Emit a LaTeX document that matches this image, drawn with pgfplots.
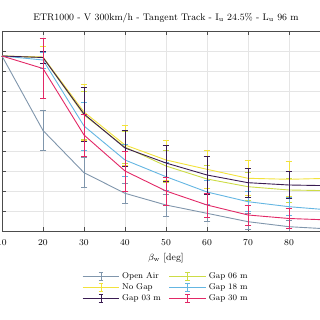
\documentclass[border=0pt]{standalone}
\usepackage{pgfplots}
\usepackage{pgfplotstable}
\pgfplotsset{compat=1.18}
\definecolor{cOpen}{RGB}{128,150,172}
\definecolor{cNoGap}{RGB}{242,226,60}
\definecolor{cG03}{RGB}{58,28,82}
\definecolor{cG06}{RGB}{205,220,70}
\definecolor{cG18}{RGB}{100,182,226}
\definecolor{cG30}{RGB}{226,40,102}

\pgfplotstableread{
x y e
10 0.875 0
20 0.5025 0.10
30 0.2915 0.075
40 0.1885 0.05
50 0.13 0.055
60 0.0885 0.042
70 0.0465 0.04
80 0.0215 0.03
90 0.010 0.03
}\openair
\pgfplotstableread{
x y e
10 0.875 0
20 0.870 0.055
30 0.595 0.14
40 0.430 0.10
50 0.355 0.10
60 0.3085 0.095
70 0.2635 0.088
80 0.2585 0.088
90 0.2635 0.088
}\nogap
\pgfplotstableread{
x y e
10 0.875 0
20 0.8675 0.03
30 0.585 0.135
40 0.415 0.09
50 0.34 0.09
60 0.28 0.095
70 0.2415 0.072
80 0.23 0.067
90 0.2265 0.065
}\gapA
\pgfplotstableread{
x y e
10 0.875 0
20 0.8675 0.03
30 0.58 0.12
40 0.42 0.08
50 0.325 0.08
60 0.26 0.07
70 0.2215 0.07
80 0.205 0.06
90 0.2015 0.06
}\gapB
\pgfplotstableread{
x y e
10 0.875 0
20 0.855 0.04
30 0.525 0.12
40 0.355 0.08
50 0.2715 0.07
60 0.195 0.06
70 0.1465 0.05
80 0.1215 0.045
90 0.105 0.045
}\gapC
\pgfplotstableread{
x y e
10 0.875 0
20 0.8125 0.15
30 0.48 0.105
40 0.30 0.10
50 0.20 0.07
60 0.13 0.06
70 0.08 0.05
80 0.0625 0.05
90 0.055 0.05
}\gapD

\begin{document}
\begin{tikzpicture}
\begin{axis}[
  at={(0,0)}, anchor=south west,
  scale only axis, width=10.25cm, height=6.25cm,
  xmin=10, xmax=90, ymin=0, ymax=1,
  xtick={10,20,...,90}, ytick={0,0.1,...,1.0},
  yticklabels={},
  tick align=inside, major tick length=0.12cm,
  xtick pos=both, ytick pos=both,
  grid=major, grid style={gray!20, line width=0.5pt},
  axis line style={gray!60!black, line width=0.7pt},
  tick style={gray!60!black, line width=0.6pt},
  tick label style={font=\fontsize{8}{9}\selectfont},
  xticklabel style={yshift=-4.4pt},
  title={ETR1000 - V 300km/h - Tangent Track - I$_{\mathrm{u}}$ 24.5\% - L$_{\mathrm{u}}$ 96 m},
  title style={font=\fontsize{8.5}{10}\selectfont, yshift=-2pt},
  xlabel={$\beta_{\mathrm{w}}$ [deg]},
  xlabel style={font=\fontsize{8.5}{10}\selectfont, yshift=0.5pt},
  legend style={at={(0.5,-0.185)}, anchor=north, draw=none, fill=none,
    font=\fontsize{7.5}{9}\selectfont, row sep=-1pt,
    /tikz/every even column/.append style={column sep=5pt}},
  legend columns=2,
  legend cell align=left,
  legend image code/.code={
    \draw[#1, solid] (0cm,0cm) -- (1.15cm,0cm);
    \draw[#1, solid] (0.575cm,-0.12cm) -- (0.575cm,0.12cm);
    \draw[#1, solid] (0.5cm,-0.12cm) -- (0.65cm,-0.12cm);
    \draw[#1, solid] (0.5cm,0.12cm) -- (0.65cm,0.12cm);
  },
  every axis plot/.append style={line width=0.8pt, mark=none},
  error bars/error bar style={line width=0.8pt},
  error bars/error mark options={rotate=90, mark size=3pt, line width=0.8pt},
]
\addplot[cOpen, error bars/.cd, y dir=both, y explicit] table[x=x, y=y, y error=e] {\openair};
\addlegendentry{Open Air}
\addplot[cG06, error bars/.cd, y dir=both, y explicit] table[x=x, y=y, y error=e] {\gapB};
\addlegendentry{Gap 06 m}
\addplot[cNoGap, error bars/.cd, y dir=both, y explicit] table[x=x, y=y, y error=e] {\nogap};
\addlegendentry{No Gap}
\addplot[cG18, error bars/.cd, y dir=both, y explicit] table[x=x, y=y, y error=e] {\gapC};
\addlegendentry{Gap 18 m}
\addplot[cG03, error bars/.cd, y dir=both, y explicit] table[x=x, y=y, y error=e] {\gapA};
\addlegendentry{Gap 03 m}
\addplot[cG30, error bars/.cd, y dir=both, y explicit] table[x=x, y=y, y error=e] {\gapD};
\addlegendentry{Gap 30 m}
\end{axis}
\pgfresetboundingbox
\path[use as bounding box] (-0.0625cm,-2.78125cm) rectangle (9.9375cm,7.21875cm);
\end{tikzpicture}
\end{document}
